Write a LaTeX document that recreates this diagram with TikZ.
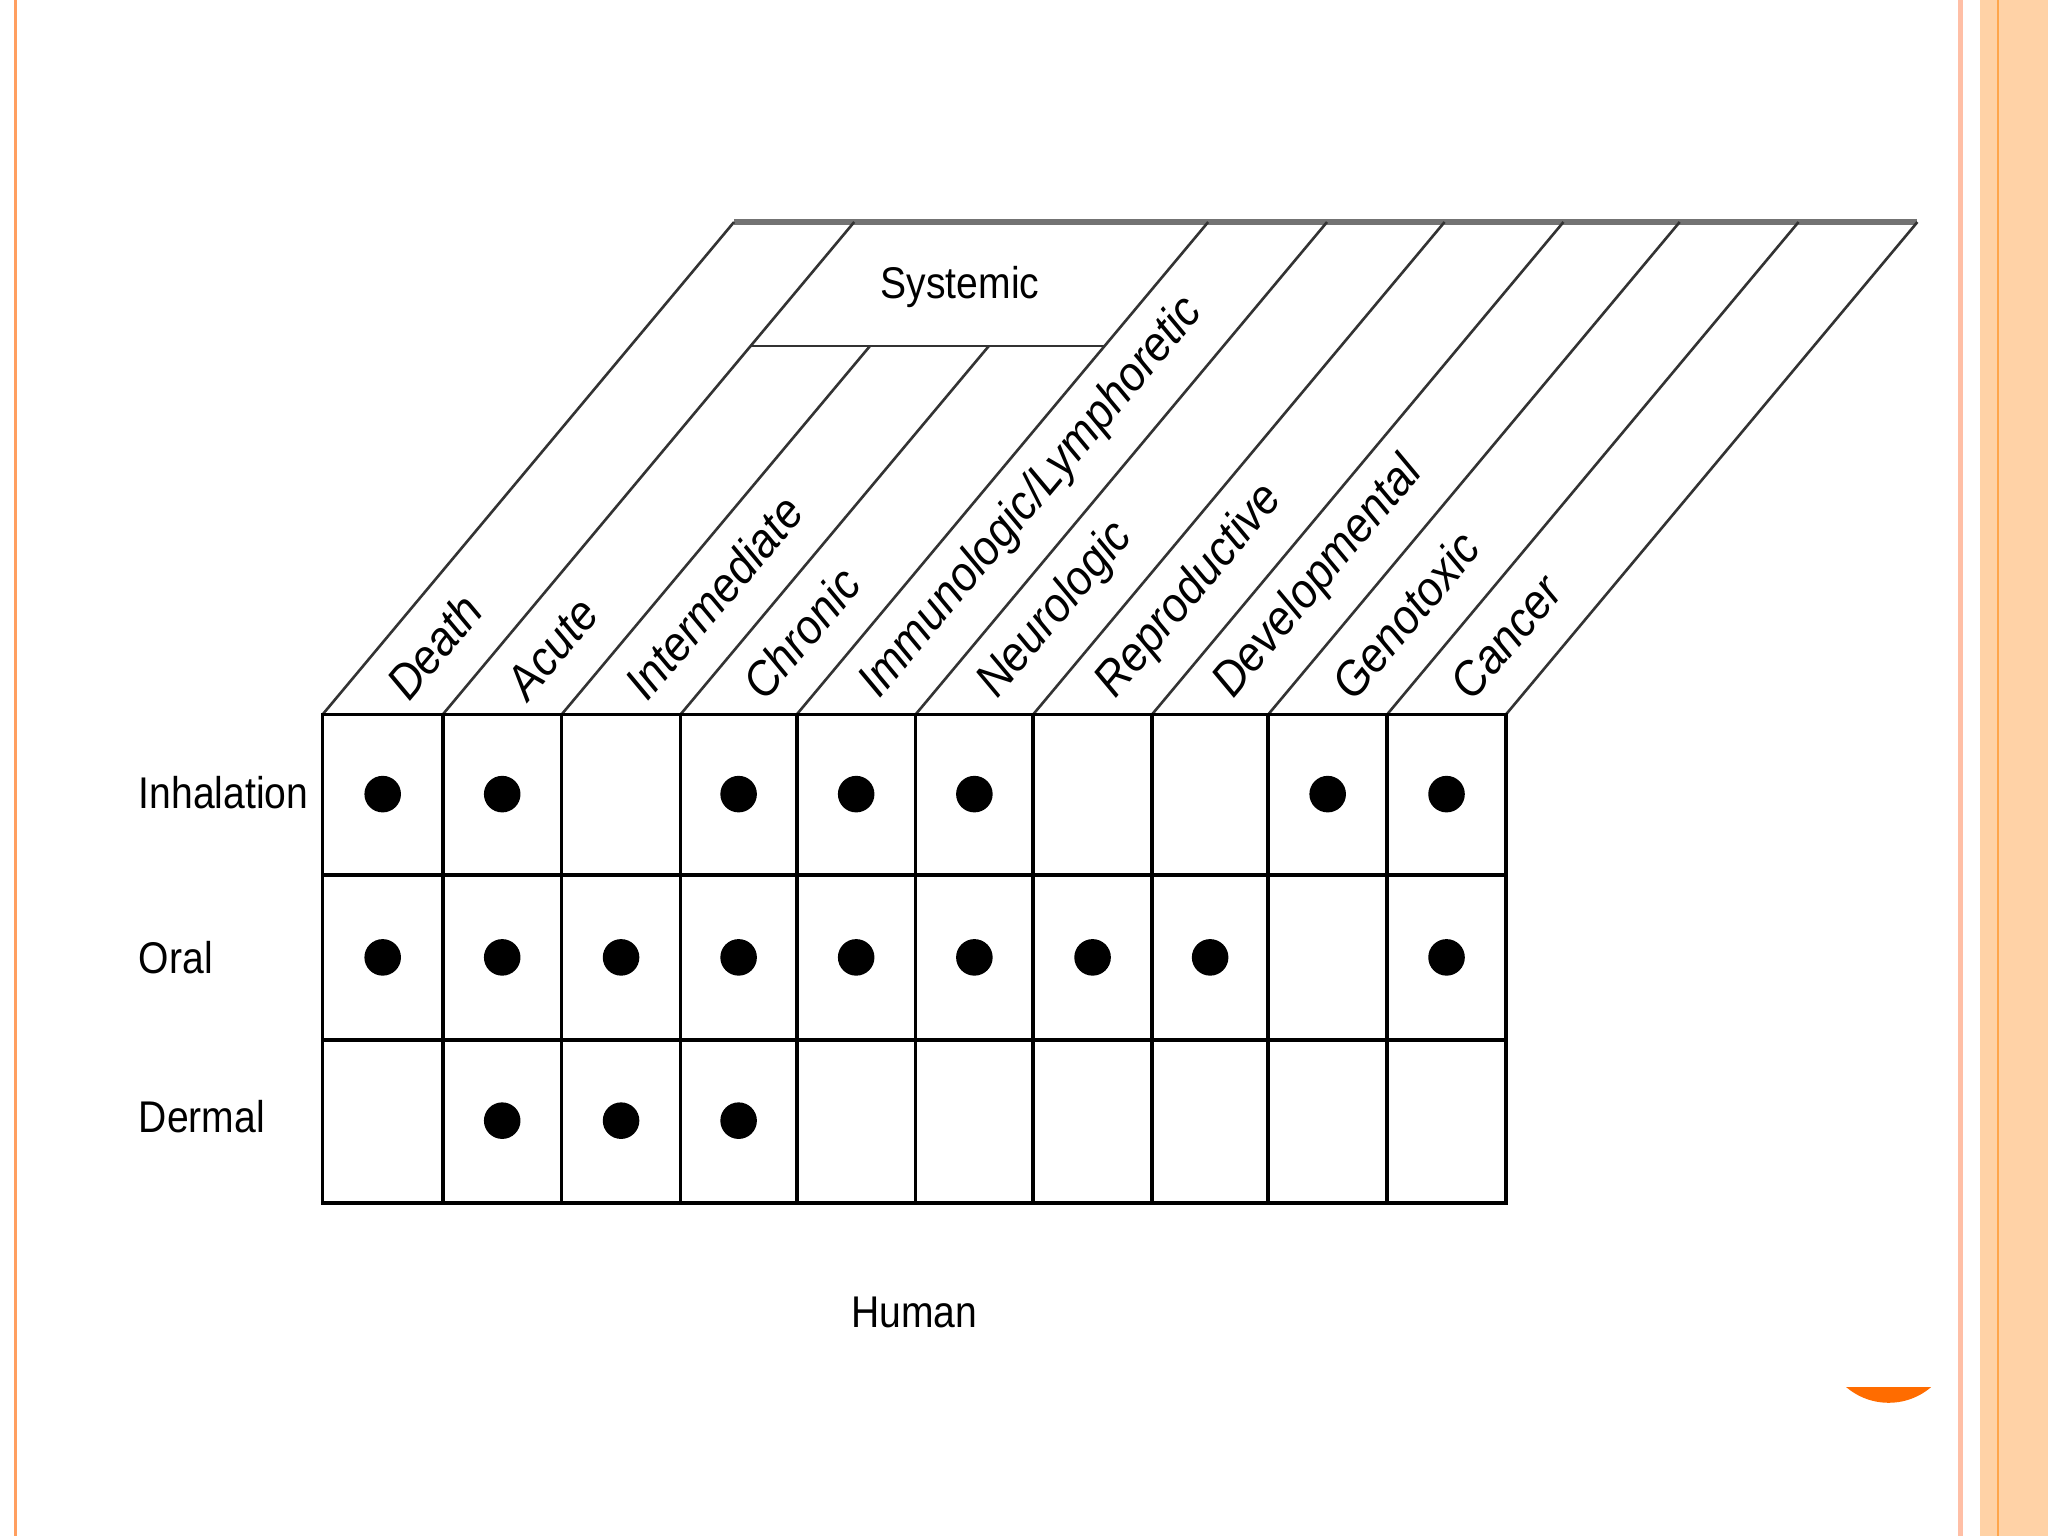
\documentclass[tikz,border=0pt]{standalone}
\usepackage{fontspec}
\setmainfont{Liberation Sans}
\begin{document}
\begin{tikzpicture}[x=0.5pt,y=-0.5pt,
  grid/.style={black,line width=1.4pt},
  slant/.style={black!80,line width=1pt},
  topl/.style={black!55,line width=2pt},
  dot/.style={circle,fill=black,inner sep=0pt,minimum width=12.5pt,minimum height=14pt},
  collab/.style={anchor=west,rotate=50,font=\fontsize{18.5}{18}\selectfont\itshape,inner sep=0pt,xscale=0.92},
  rowlab/.style={anchor=west,font=\fontsize{17}{17}\selectfont,inner sep=0pt,xscale=0.88}]
\useasboundingbox (0,0) rectangle (1568,1176);
\fill[white] (0,0) rectangle (1568,1176);
% borders
\fill[orange!25!pink!80] (1499,0) rectangle (1503,1176);
\fill[orange!35!white] (1516,0) rectangle (1568,1176);
\draw[orange!70,line width=0.8pt] (1530,0) -- (1530,1176);
\draw[orange!50!pink,line width=1pt] (12,0) -- (12,1176);
\begin{scope}
\clip (1400,1062) rectangle (1490,1100);
\fill[orange!85!red] (1446,1024) circle (50);
\end{scope}
% column boundaries
\def\xs{{247,339,430,521,610,701,791,882,971,1062,1153}}
\foreach \i in {0,...,10}{
  \pgfmathsetmacro\xx{\xs[\i]}
  \coordinate (b\i) at (\xx,547);
  \coordinate (t\i) at (\xx+315,170);
  \coordinate (m\i) at (\xx+236,265);
}
\draw[topl] (t0) -- (t10);
\draw[slant] (m1) -- (m4);
\foreach \i in {0,1,4,5,6,7,8,9,10}{\draw[slant] (b\i) -- (t\i);}
\draw[slant] (b2) -- (m2);
\draw[slant] (b3) -- (m3);
\node[font=\fontsize{17}{17}\selectfont,xscale=0.88] (sys) at (735,220) {Systemic};
% grid
\draw[grid] (247,547) rectangle (1153,921);
\draw[grid] (247,670) -- (1153,670);
\draw[grid] (247,796) -- (1153,796);
\foreach \i in {1,...,9}{\pgfmathsetmacro\xx{\xs[\i]}\draw[grid] (\xx,547) -- (\xx,921);}
% column labels
\foreach \lab [count=\k from 0] in {Death,Acute,Intermediate,Chronic,Immunologic/Lymphoretic,Neurologic,Reproductive,Developmental,Genotoxic,Cancer}{
  \pgfmathsetmacro\xa{\xs[\k]}\pgfmathtruncatemacro\kk{\k+1}\pgfmathsetmacro\xb{\xs[\kk]}
  \node[collab] (c\k) at ({(\xa+\xb)/2+10},530) {\lab};
}
% row labels
\node[rowlab] (r1) at (106,607) {Inhalation};
\node[rowlab] (r2) at (106,733) {Oral};
\node[rowlab] (r3) at (106,855) {Dermal};
\node[font=\fontsize{17}{17}\selectfont,xscale=0.88] (hum) at (700,1005) {Human};
% dots
\foreach \r/\y/\cols in {1/608/{0,1,3,4,5,8,9},2/733/{0,1,2,3,4,5,6,7,9},3/858/{1,2,3}}{
  \foreach \c in \cols{
    \pgfmathsetmacro\xa{\xs[\c]}\pgfmathtruncatemacro\cc{\c+1}\pgfmathsetmacro\xb{\xs[\cc]}
    \node[dot] (d\r-\c) at ({(\xa+\xb)/2},\y) {};
  }
}
\end{tikzpicture}
\end{document}
